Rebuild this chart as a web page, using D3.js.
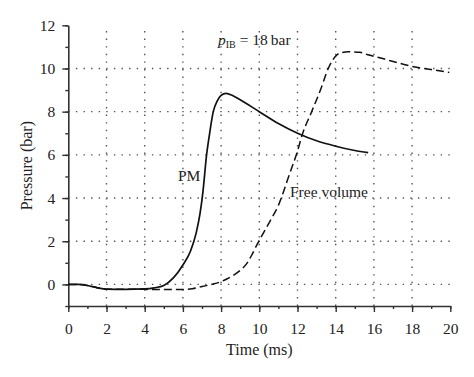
<!DOCTYPE html>
<html>
<head>
<meta charset="utf-8">
<script src="https://cdn.jsdelivr.net/npm/d3@7"></script>
<style>
  body { margin: 0; background: #fff; }
  svg { display: block; }
  text { font-family: "Liberation Serif", "DejaVu Serif", serif; fill: #222; }
</style>
</head>
<body>
<svg id="chart" width="474" height="377"></svg>
<script>
// ---- data ----
const xTicks = [0, 2, 4, 6, 8, 10, 12, 14, 16, 18, 20];
const yTicks = [0, 2, 4, 6, 8, 10, 12];
const pmTime = [0, 0.5, 1, 1.5, 2, 3, 4, 4.5, 5, 5.5, 6, 6.4, 6.7, 6.9, 7.05, 7.24, 7.4, 7.59, 7.8, 8.0, 8.26, 8.6, 9, 10, 11, 12, 13, 14, 15, 15.7];
const pmPressure = [0, 0, -0.05, -0.15, -0.22, -0.23, -0.21, -0.16, -0.05, 0.3, 0.9, 1.55, 2.4, 3.3, 4.3, 6.0, 7.0, 8.0, 8.5, 8.75, 8.85, 8.75, 8.55, 8.0, 7.45, 7.0, 6.65, 6.4, 6.2, 6.1];
const fvTime = [0, 0.5, 1, 1.5, 2, 3, 4, 5, 6, 6.5, 7, 7.5, 7.94, 8.3, 8.64, 9.0, 9.34, 9.6, 9.86, 10.1, 10.39, 10.7, 11.0, 11.25, 11.47, 11.7, 11.96, 12.27, 12.74, 13.2, 13.61, 13.85, 14.05, 14.3, 14.66, 15.27, 15.64, 16.5, 17.3, 18.08, 19, 19.95];
const fvPressure = [0, 0, -0.05, -0.15, -0.22, -0.23, -0.23, -0.24, -0.24, -0.2, -0.1, 0.0, 0.11, 0.25, 0.42, 0.65, 0.96, 1.35, 1.81, 2.2, 2.66, 3.15, 3.66, 4.25, 4.82, 5.4, 6.06, 6.99, 8.0, 9.0, 10.0, 10.4, 10.62, 10.73, 10.77, 10.75, 10.65, 10.45, 10.25, 10.08, 9.95, 9.82];

const svg = d3.select("#chart");
const x = d3.scaleLinear().domain([0, 20]).range([68.3, 450.3]);
const y = d3.scaleLinear().domain([-1, 12]).range([306, 25.3]);

// gridlines
const grid = svg.append("g").attr("stroke", "#555").attr("stroke-width", 1.4)
  .attr("stroke-dasharray", "1.4,6.2").attr("fill", "none");
xTicks.filter(d => d > 0 && d < 20).forEach(d => {
  grid.append("line").attr("x1", x(d)).attr("x2", x(d)).attr("y1", y(-1)).attr("y2", y(11.85));
});
yTicks.filter(d => d < 12).forEach(d => {
  grid.append("line").attr("x1", x(0)).attr("x2", x(20)).attr("y1", y(d)).attr("y2", y(d));
});

// axes
const xMinor = d3.range(0, 21, 1);
const yMinor = d3.range(-1, 13, 1);
svg.append("g").attr("transform", `translate(0,${y(-1)})`)
  .call(d3.axisBottom(x).tickValues(xMinor).tickSize(3).tickFormat(""))
  .call(g => g.select(".domain").remove())
  .call(g => g.selectAll("line").attr("stroke", "#333").attr("stroke-width", 1.4));
svg.append("g").attr("transform", `translate(${x(0)},0)`)
  .call(d3.axisLeft(y).tickValues(yMinor).tickSize(3).tickFormat(""))
  .call(g => g.select(".domain").remove())
  .call(g => g.selectAll("line").attr("stroke", "#333").attr("stroke-width", 1.4));

const xAxis = svg.append("g").attr("transform", `translate(0,${y(-1)})`)
  .call(d3.axisBottom(x).tickValues(xTicks).tickSize(6).tickSizeOuter(0).tickPadding(11).tickFormat(d3.format("d")));
const yAxis = svg.append("g").attr("transform", `translate(${x(0)},0)`)
  .call(d3.axisLeft(y).tickValues(yTicks).tickSize(6).tickSizeOuter(0).tickPadding(7).tickFormat(d3.format("d")));
[xAxis, yAxis].forEach(a => {
  a.select(".domain").attr("stroke", "#333").attr("stroke-width", 1.6);
  a.selectAll(".tick line").attr("stroke", "#333").attr("stroke-width", 1.4);
  a.selectAll(".tick text").attr("font-size", 15.5).attr("font-family", "Liberation Serif").attr("fill", "#222");
});

// curves
const line = d3.line().x(d => x(d[0])).y(d => y(d[1])).curve(d3.curveMonotoneX);
svg.append("path").datum(fvTime.map((t, i) => [t, fvPressure[i]]))
  .attr("d", line).attr("fill", "none").attr("stroke", "#111").attr("stroke-width", 1.5)
  .attr("stroke-dasharray", "8,4");
svg.append("path").datum(pmTime.map((t, i) => [t, pmPressure[i]]))
  .attr("d", line).attr("fill", "none").attr("stroke", "#111").attr("stroke-width", 1.7);

// labels
svg.append("text").attr("x", (x(0) + x(20)) / 2).attr("y", 355).attr("text-anchor", "middle")
  .attr("font-size", 16).text("Time (ms)");
svg.append("text").attr("transform", `translate(32,${(y(-1) + y(12)) / 2}) rotate(-90)`)
  .attr("text-anchor", "middle").attr("font-size", 16).text("Pressure (bar)");

const ann = svg.append("text").attr("x", 218).attr("y", 45).attr("font-size", 15.5);
ann.append("tspan").attr("font-style", "italic").text("p");
ann.append("tspan").attr("font-size", 10).attr("dy", 3).text("IB");
ann.append("tspan").attr("dy", -3).text(" = 18\u2009bar");

svg.append("text").attr("x", 178).attr("y", 181).attr("font-size", 15.5).text("PM");
svg.append("text").attr("x", 290).attr("y", 197).attr("font-size", 15.5).text("Free volume");
</script>
</body>
</html>
